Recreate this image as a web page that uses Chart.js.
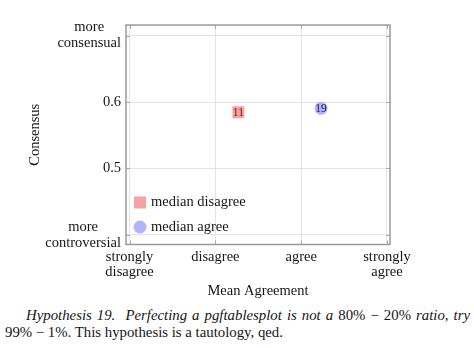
<!DOCTYPE html>
<html>
<head>
<meta charset="utf-8">
<script src="https://cdn.jsdelivr.net/npm/chart.js@4"></script>
<style>
  body { margin: 0; background: #fff; }
  #wrap { position: relative; width: 474px; height: 348px; }
  #chart { position: absolute; left: 0; top: 0; }
  .caption {
    position: absolute;
    font-family: "Liberation Serif", serif;
    font-size: 14.8px;
    color: #151515;
    white-space: nowrap;
  }
  #cap1 { left: 26px; width: 444px; top: 307px; text-align: justify; text-align-last: justify; font-style: italic; }
  #cap2 { left: 5px; top: 324px; }
  .up { font-style: normal; }
</style>
</head>
<body>
<div id="wrap">
  <canvas id="chart" width="474" height="300"></canvas>
  <div class="caption" id="cap1">Hypothesis 19.&nbsp; Perfecting a pgftablesplot is not a <span class="up">80% − 20%</span> ratio, try</div>
  <div class="caption" id="cap2">99% − 1%. This hypothesis is a tautology, qed.</div>
</div>
<script>
  // agreement scale: 1 = strongly disagree ... 4 = strongly agree
  const agreementTicks = [1, 2, 3, 4];
  const agreementLabels = [["strongly", "disagree"], "disagree", "agree", ["strongly", "agree"]];
  const consensusTicks = [0.4, 0.5, 0.6, 0.7];
  const consensusLabels = [["more", "controversial"], "0.5", "0.6", ["more", "consensual"]];

  const disagreeIds = ["11"];
  const disagreeAgreement = [2.268];
  const disagreeConsensus = [0.5845];

  const agreeIds = ["19"];
  const agreeAgreement = [3.232];
  const agreeConsensus = [0.5905];

  const serif = "'Liberation Serif', serif";
  const ink = "#151515";

  function toPoints(xs, ys) {
    return xs.map((x, i) => ({ x: x, y: ys[i] }));
  }

  // frame, inward tick marks, y tick labels, point ids and the legend box
  const decorations = {
    id: "decorations",
    afterDraw(chart) {
      const ctx = chart.ctx;
      const area = chart.chartArea;
      const xs = chart.scales.x;
      const ys = chart.scales.y;
      ctx.save();

      // tick marks on all four sides
      ctx.strokeStyle = "#aaa";
      ctx.lineWidth = 1;
      ctx.beginPath();
      agreementTicks.forEach((v) => {
        const px = Math.round(xs.getPixelForValue(v)) + 0.5;
        ctx.moveTo(px, area.top); ctx.lineTo(px, area.top + 4);
        ctx.moveTo(px, area.bottom); ctx.lineTo(px, area.bottom - 4);
      });
      consensusTicks.forEach((v) => {
        const py = Math.round(ys.getPixelForValue(v)) + 0.5;
        ctx.moveTo(area.left, py); ctx.lineTo(area.left + 4, py);
        ctx.moveTo(area.right, py); ctx.lineTo(area.right - 4, py);
      });
      ctx.stroke();

      ctx.strokeStyle = "#9a9a9a";
      ctx.lineWidth = 1.5;
      ctx.strokeRect(area.left, area.top, area.right - area.left, area.bottom - area.top);

      // y tick labels: block right aligned, lines centred inside it
      ctx.font = "14.5px " + serif;
      ctx.fillStyle = ink;
      ctx.textAlign = "center";
      ctx.textBaseline = "middle";
      const lineH = 16;
      consensusTicks.forEach((v, i) => {
        const lines = [].concat(consensusLabels[i]);
        const w = Math.max(...lines.map((l) => ctx.measureText(l).width));
        const cx = area.left - 5 - w / 2;
        const cy = ys.getPixelForValue(v);
        lines.forEach((l, j) => {
          ctx.fillText(l, cx, cy + (j - (lines.length - 1) / 2) * lineH);
        });
      });

      // point ids
      ctx.font = "11.5px " + serif;
      const idSets = [disagreeIds, agreeIds];
      const idColors = ["#7a1010", "#14145a"];
      chart.data.datasets.forEach((ds, d) => {
        chart.getDatasetMeta(d).data.forEach((el, i) => {
          ctx.fillStyle = idColors[d];
          ctx.fillText(idSets[d][i], el.x, el.y + 0.5);
        });
      });

      // legend in the lower left corner of the plot
      ctx.font = "14.5px " + serif;
      ctx.textAlign = "left";
      const lx = area.left + 14;
      const rows = [area.bottom - 42, area.bottom - 17.5];
      chart.data.datasets.forEach((ds, d) => {
        const y = rows[d];
        ctx.fillStyle = ds.backgroundColor;
        if (ds.pointStyle === "rect") {
          ctx.fillRect(lx - 6, y - 6, 12, 12);
        } else {
          ctx.beginPath();
          ctx.arc(lx, y, 6.5, 0, Math.PI * 2);
          ctx.fill();
        }
        ctx.fillStyle = ink;
        ctx.fillText(ds.label, lx + 11, y);
      });
      ctx.restore();
    },
  };

  new Chart(document.getElementById("chart"), {
    type: "scatter",
    data: {
      datasets: [
        {
          label: "median disagree",
          data: toPoints(disagreeAgreement, disagreeConsensus),
          pointStyle: "rect",
          backgroundColor: "#f4a3a3",
          borderWidth: 0,
          pointRadius: 8.4,
        },
        {
          label: "median agree",
          data: toPoints(agreeAgreement, agreeConsensus),
          pointStyle: "circle",
          backgroundColor: "#b3b3f7",
          borderWidth: 0,
          pointRadius: 6.5,
        },
      ],
    },
    options: {
      responsive: false,
      animation: false,
      devicePixelRatio: 1,
      layout: { padding: { top: 25, right: 84, left: 0, bottom: 0 } },
      plugins: {
        legend: { display: false },
        tooltip: { enabled: false },
      },
      scales: {
        x: {
          type: "linear",
          min: 0.959,
          max: 4.035,
          afterBuildTicks: (scale) => {
            scale.ticks = agreementTicks.map((v) => ({ value: v }));
          },
          afterFit: (scale) => {
            scale.height = 55.5;
          },
          grid: { color: "#e4e4e4", lineWidth: 1, drawTicks: false },
          border: { display: false },
          ticks: {
            padding: 5,
            color: ink,
            maxRotation: 0,
            autoSkip: false,
            font: { family: serif, size: 14.5, lineHeight: 1.05 },
            callback: (v, i) => agreementLabels[i],
          },
          title: {
            display: true,
            text: "Mean Agreement",
            color: ink,
            padding: { top: 0, bottom: 0 },
            font: { family: serif, size: 14.5 },
          },
        },
        y: {
          type: "linear",
          min: 0.3857,
          max: 0.7158,
          afterBuildTicks: (scale) => {
            scale.ticks = consensusTicks.map((v) => ({ value: v }));
          },
          afterFit: (scale) => {
            scale.width = 126;
          },
          grid: { color: "#e4e4e4", lineWidth: 1, drawTicks: false },
          border: { display: false },
          ticks: { display: false },
          title: {
            display: true,
            text: "Consensus",
            color: ink,
            padding: { top: 26, bottom: 0 },
            font: { family: serif, size: 14.5 },
          },
        },
      },
    },
    plugins: [decorations],
  });
</script>
</body>
</html>
